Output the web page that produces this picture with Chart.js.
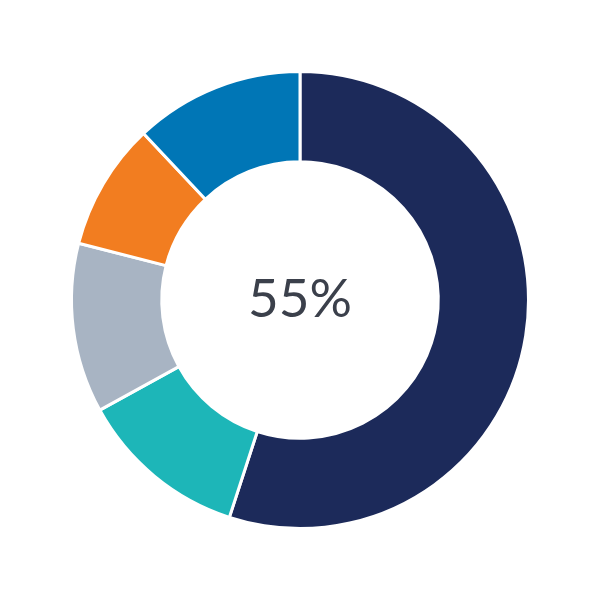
<!DOCTYPE html>
<html>
<head>
<meta charset="utf-8">
<script src="https://cdn.jsdelivr.net/npm/chart.js@4"></script>
<style>
  html, body { margin: 0; padding: 0; background: #fff; }
  #wrap { position: relative; width: 600px; height: 600px; }
  #centerLabel {
    position: absolute; left: 0; top: 0; width: 600px; height: 592px;
    display: flex; align-items: center; justify-content: center;
    font-family: 'Lato', 'Open Sans', sans-serif; font-weight: 400; font-size: 53px;
    color: #3b404b; pointer-events: none;
  }
</style>
</head>
<body>
<div id="wrap">
  <canvas id="donut" width="600" height="600"></canvas>
  <div id="centerLabel">55%</div>
</div>
<script>
const segments = ['A', 'B', 'C', 'D', 'E'];
const shares = [55, 12, 12, 9, 12];
const colors = ['#1c2a5a', '#1db6b8', '#a8b4c3', '#f27d20', '#0076b6'];

new Chart(document.getElementById('donut'), {
  type: 'doughnut',
  data: {
    labels: segments,
    datasets: [{ data: shares, backgroundColor: colors, borderColor: '#fff', borderWidth: 3 }]
  },
  options: {
    responsive: false,
    animation: false,
    cutout: '60.5%',
    layout: { padding: 70 },
    plugins: { legend: { display: false }, tooltip: { enabled: false } }
  }
});
</script>
</body>
</html>
